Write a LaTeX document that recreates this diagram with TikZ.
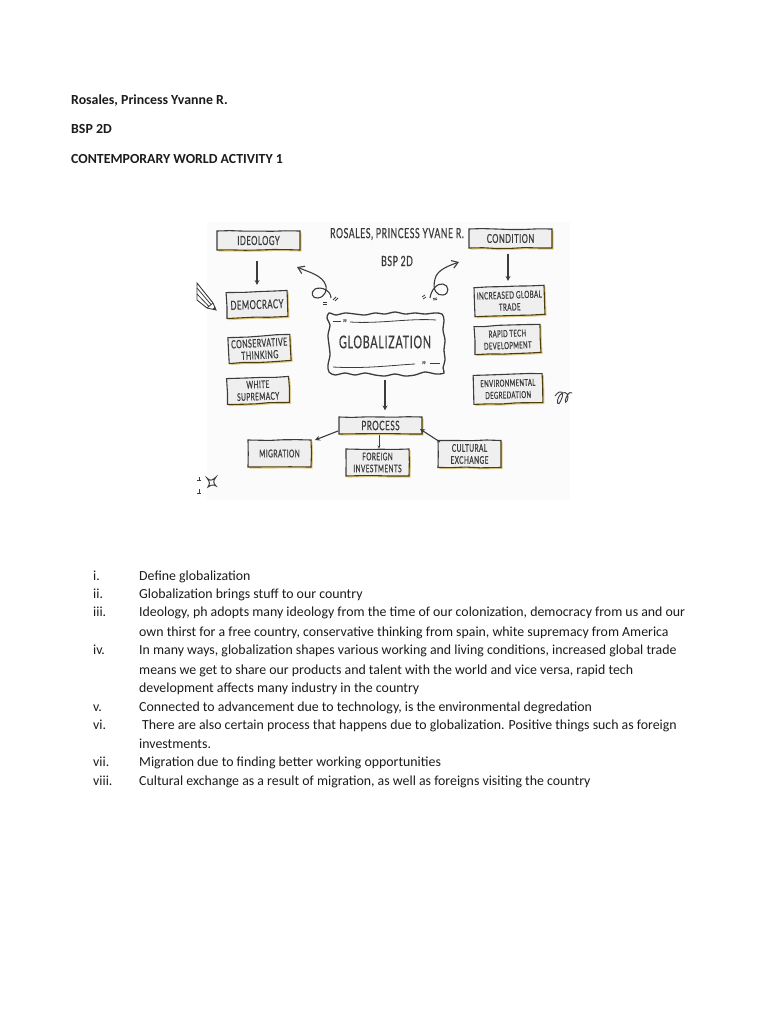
\documentclass[tikz,border=0pt]{standalone}
\usepackage{fontspec}
\setmainfont{Carlito}
\newfontfamily\handfont[FakeStretch=0.62,LetterSpace=4,FakeBold=0.5]{Lato}
\usetikzlibrary{decorations.pathmorphing,shadows,arrows.meta}
\definecolor{ink}{HTML}{3C3C3C}
\definecolor{boxfill}{HTML}{EFEFEF}
\definecolor{marker}{HTML}{F5CF55}
\definecolor{bodyink}{HTML}{1C1C1C}
\tikzset{
  hb/.style={draw=ink,line width=1.1pt,fill=boxfill,font=\handfont\fontsize{#1}{12}\selectfont,text=ink,
    align=center,inner sep=0pt,
    decorate,decoration={random steps,segment length=14pt,amplitude=.5pt},
    general shadow={fill=marker,shadow xshift=1.6pt,shadow yshift=-1.6pt}},
  hb/.default=9,
  lab/.style={font=\handfont\fontsize{#1}{12}\selectfont,text=ink,inner sep=0pt},
  lab/.default=10,
  flow/.style={draw=ink,line width=1.1pt,-{Stealth[length=5pt,width=5pt]}},
  curly/.style={draw=ink,line width=1.1pt,-{Straight Barb[length=6pt,width=8pt]}},
  scribble/.style={draw=ink,line width=.8pt},
  head/.style={font=\bfseries\fontsize{13.85}{16}\selectfont,text=bodyink,anchor=base west,inner sep=0pt},
  item/.style={font=\fontsize{13.85}{16}\selectfont,text=bodyink,anchor=base west,inner sep=0pt},
}
\begin{document}
\begin{tikzpicture}[x=1pt,y=-1pt]
\pgfmathsetseed{7}
\useasboundingbox (0,0) rectangle (768,1024);
\fill[white] (0,0) rectangle (768,1024);
\fill[black!1.5] (207,222) rectangle (570,500);
% header
\node[head] (h1) at (71,105) {Rosales, Princess Yvanne R.};
\node[head] (h2) at (71,134) {BSP 2D};
\node[head] (h3) at (71,164) {CONTEMPORARY WORLD ACTIVITY 1};
% title
\node[lab=14] (name) at (397,234) {ROSALES, PRINCESS YVANE R.};
\node[lab=14] (cls) at (397,261) {BSP 2D};
% boxes
\node[hb=12.5,minimum width=83pt,minimum height=19pt] (ideo) at (258.5,240.5) {IDEOLOGY};
\node[hb=12.5,minimum width=61pt,minimum height=26pt,rotate=2] (demo) at (257,304.5) {DEMOCRACY};
\node[hb=11.3,minimum width=62pt,minimum height=26pt,rotate=3] (cons) at (259.5,349) {CONSERVATIVE\\THINKING};
\node[hb=10.5,minimum width=62pt,minimum height=26pt,rotate=2] (white) at (258,390.5) {WHITE\\SUPREMACY};
\node[hb=12.3,minimum width=83pt,minimum height=19pt] (cond) at (510.5,238.5) {CONDITION};
\node[hb=10,minimum width=70pt,minimum height=29pt,rotate=2] (trade) at (509.5,301) {INCREASED GLOBAL\\TRADE};
\node[hb=9.6,minimum width=66pt,minimum height=28pt,rotate=2] (tech) at (507.5,339.5) {RAPID TECH\\DEVELOPMENT};
\node[hb=9.6,minimum width=69pt,minimum height=29pt,rotate=1.5] (env) at (508,389) {ENVIRONMENTAL\\DEGREDATION};
\node[hb=13,minimum width=83pt,minimum height=17pt] (proc) at (380.5,425.5) {PROCESS};
\node[hb=10.7,minimum width=63pt,minimum height=27pt] (migr) at (279.5,453.5) {MIGRATION};
\node[hb=10.4,minimum width=63pt,minimum height=27pt] (fore) at (377.5,462.5) {FOREIGN\\INVESTMENTS};
\node[hb=10.5,minimum width=63pt,minimum height=27pt] (cult) at (469.5,454) {CULTURAL\\EXCHANGE};
% central
\node[minimum width=115pt,minimum height=62pt,inner sep=0pt,
  font=\handfont\fontsize{17.4}{18}\selectfont,text=ink] (glob) at (385,342) {GLOBALIZATION};
\draw[ink,line width=1.3pt,fill=white,fill opacity=0,tension=.5] plot[smooth cycle] coordinates {
  (329,313) (336,315) (345,313) (355,314) (365,315) (375,313) (385,314) (395,312) (405,314)
  (415,313) (425,314) (435,313) (442,314) (444,320) (443,330) (445,340) (444,350) (445,360)
  (443,368) (444,373) (436,374) (425,372) (415,375) (405,376) (395,374) (385,376) (375,375)
  (365,373) (355,375) (345,373) (335,375) (329,372) (328,365) (330,355) (329,345) (328,335)
  (330,325) (327,318)};
% inner rules of the central frame
\draw[scribble] (333,321) -- (341,321);
\node[inner sep=0pt,font=\bfseries\fontsize{11}{11}\selectfont,text=ink] (q1) at (345,323) {”};
\draw[scribble] (350,322) .. controls (380,324) and (410,318) .. (436,320);
\draw[scribble] (333,367) .. controls (365,369) and (395,365) .. (415,364);
\node[inner sep=0pt,font=\bfseries\fontsize{11}{11}\selectfont,text=ink] (q2) at (424,365) {”};
\draw[scribble] (430,363) -- (440,363);
% connectors
\coordinate (gs) at (385,374);
\draw[flow,shorten >=6pt,shorten <=10pt] (ideo.south -| 257,0) -- (demo.north -| 257,0);
\draw[flow,shorten >=5pt,shorten <=5pt] (cond.south -| 508,0) -- (trade.north -| 508,0);
\draw[flow,shorten >=6pt,shorten <=6pt] (gs) -- (proc.north -| gs);
\coordinate (pw) at (338,431);
\coordinate (mt) at (315,440);
\draw[flow] (pw) -- (mt);
\coordinate (pf) at (379,435);
\draw[flow,line width=.7pt,-{Stealth[length=3pt,width=3pt]}] (pf) -- (fore.north -| pf);
\coordinate (pe) at (420,429);
\coordinate (cw) at (440,442);
\draw[flow] (cw) -- (pe);
% curly arrows
\coordinate (lstart) at (331,298);
\coordinate (ltip) at (297,267);
\draw[curly] (lstart) .. controls (331,291) and (322,286) .. (315,289)
  .. controls (310,292) and (312,299) .. (318,298)
  .. controls (325,297) and (327,290) .. (326,286)
  .. controls (323,275) and (308,272) .. (ltip);
\coordinate (rstart) at (430,298);
\coordinate (rtip) at (459,262);
\draw[curly] (rstart) .. controls (431,290) and (437,283) .. (443,284)
  .. controls (449,285) and (450,294) .. (443,295)
  .. controls (437,296) and (432,290) .. (435,279)
  .. controls (437,270) and (448,266) .. (rtip);
% small ticks near the arrows
\draw[scribble] (323,304) -- (327,304) (323,302.5) -- (327,302.5);
\draw[scribble] (333,300) -- (336,297) (335,301) -- (338,298);
\draw[scribble] (422,297) -- (425,295) (423,299) -- (426,297);
\draw[scribble] (433,298.5) -- (437,298) (433,300) -- (437,299.5);
% pencil
\fill[white,draw=ink,line width=.9pt] (197,283) -- (213,303) -- (216,310) -- (207,308) -- (197,300) -- cycle;
\draw[scribble] (197,288) -- (211,304.5) (197,294) -- (209,306.5) (213,303) -- (207,308);
\fill[ink] (216,310) -- (212.5,309) -- (215,306.5) -- cycle;
% loops near the environment box
\draw[scribble,line width=.9pt] (555,396) .. controls (561,388) and (565,392) .. (561,400)
  .. controls (558,408) and (555,402) .. (560,395)
  .. controls (563,391) and (568,392) .. (568,397)
  .. controls (567,405) and (563,403) .. (567,396)
  .. controls (569,392) and (571,392) .. (572,393);
% sparkles
\draw[scribble,line width=1pt] (207,478) .. controls (210,481) and (212,481) .. (216,477)
  .. controls (213,481) and (213,483) .. (216,486)
  .. controls (213,484) and (211,485) .. (208,487)
  .. controls (210,484) and (210,482) .. (207,478) -- cycle;
\draw[scribble] (199,481) -- (199,477) (197,480.5) -- (201,480.5);
\draw[scribble] (199,494) -- (199,489) (197,493.5) -- (201,493.5);
% list
\foreach \n/\y/\t in {a/580/i.,b/598/ii.,c/616/iii.,d/654/iv.,e/711/v.,f/729/vi.,g/766/vii.,h/785/viii.}
  \node[item] (num\n) at (93,\y) {\t};
\node[item] (t1) at (139,580) {Define globalization};
\node[item] (t2) at (139,598) {Globalization brings stuff to our country};
\node[item] (t3) at (139,616) {Ideology, ph adopts many ideology from the time of our colonization, democracy from us and our};
\node[item] (t3b) at (139,636) {own thirst for a free country, conservative thinking from spain, white supremacy from America};
\node[item] (t4) at (139,654) {In many ways, globalization shapes various working and living conditions, increased global trade};
\node[item] (t4b) at (139,674) {means we get to share our products and talent with the world and vice versa, rapid tech};
\node[item] (t4c) at (139,692) {development affects many industry in the country};
\node[item] (t5) at (139,711) {Connected to advancement due to technology, is the environmental degredation};
\node[item] (t6) at (142,729) {There are also certain process that happens due to globalization. Positive things such as foreign};
\node[item] (t6b) at (139,748) {investments.};
\node[item] (t7) at (139,766) {Migration due to finding better working opportunities};
\node[item] (t8) at (139,785) {Cultural exchange as a result of migration, as well as foreigns visiting the country};
\end{tikzpicture}
\end{document}
